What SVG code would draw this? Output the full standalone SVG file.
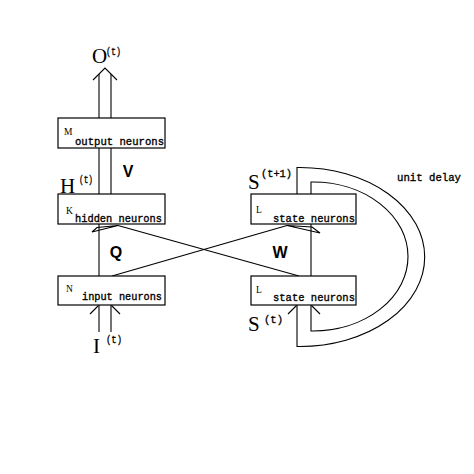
<svg xmlns="http://www.w3.org/2000/svg" width="474" height="474" viewBox="0 0 474 474">
<style>
.box{fill:#fff;stroke:#000;stroke-width:1.2}
.ln{fill:none;stroke:#000;stroke-width:1.1}
.mono{font-family:"Liberation Mono","DejaVu Sans Mono",monospace;font-size:11px;fill:#000;stroke:#000;stroke-width:0.35}
.sm{font-family:"Liberation Serif","DejaVu Serif",serif;font-size:9.5px;fill:#000}
.big{font-family:"Liberation Serif","DejaVu Serif",serif;font-size:21px;fill:#000}
.sup{font-family:"Liberation Mono","DejaVu Sans Mono",monospace;font-size:10px;fill:#000;stroke:#000;stroke-width:0.3}
.bold{font-family:"Liberation Sans","DejaVu Sans",sans-serif;font-size:16px;font-weight:bold;fill:#000}
</style>
<rect width="474" height="474" fill="#fff"/>
<g id="connectors">
<polyline class="ln" points="93,80 105,68 117,80"/>
<line class="ln" x1="99" y1="74" x2="99" y2="118"/>
<line class="ln" x1="111" y1="74" x2="111" y2="118"/>
<line class="ln" x1="99" y1="148" x2="99" y2="194"/>
<line class="ln" x1="111" y1="148" x2="111" y2="194"/>
<line class="ln" x1="99" y1="224" x2="99" y2="276"/>
<line class="ln" x1="311" y1="224" x2="311" y2="276"/>
<line class="ln" x1="118" y1="225.5" x2="299" y2="276"/>
<polygon class="ln" points="118,225.5 92,232 97,227.5"/>
<line class="ln" x1="112" y1="276" x2="287" y2="225.5"/>
<polygon class="ln" points="287,225.5 320,233 312,227"/>
<line class="ln" x1="99" y1="305" x2="99" y2="332"/>
<line class="ln" x1="111" y1="305" x2="111" y2="332"/>
<line class="ln" x1="90" y1="314" x2="98.5" y2="305.5"/>
<line class="ln" x1="120" y1="314" x2="111.5" y2="305.5"/>
<path class="ln" d="M297,194 V167.5 L300,167.5 A124,89 0 0 1 300,346.5 L297,346.5 V305"/>
<path class="ln" d="M311,194 V182 L313,182 A95,74.5 0 0 1 313,331 L311,331 V305"/>
<line class="ln" x1="288" y1="314" x2="296.5" y2="305.5"/>
<line class="ln" x1="320" y1="314" x2="311.5" y2="305.5"/>
</g>
<g id="output">
<rect class="box" x="58" y="118" width="107" height="30"/>
<text class="sm" x="64" y="135">M</text>
<text class="mono" x="75" y="145" textLength="89" lengthAdjust="spacingAndGlyphs">output neurons</text>
</g>
<g id="hidden">
<rect class="box" x="58" y="194" width="107" height="30"/>
<text class="sm" x="66" y="214">K</text>
<text class="mono" x="75" y="222" textLength="87" lengthAdjust="spacingAndGlyphs">hidden neurons</text>
</g>
<g id="input">
<rect class="box" x="58" y="276" width="107" height="29"/>
<text class="sm" x="66" y="292">N</text>
<text class="mono" x="82" y="300" textLength="80" lengthAdjust="spacingAndGlyphs">input neurons</text>
</g>
<g id="state-next">
<rect class="box" x="251" y="194" width="105" height="30"/>
<text class="sm" x="256" y="213">L</text>
<text class="mono" x="273" y="222" textLength="82" lengthAdjust="spacingAndGlyphs">state neurons</text>
</g>
<g id="state-current">
<rect class="box" x="251" y="276" width="105" height="29"/>
<text class="sm" x="256" y="293">L</text>
<text class="mono" x="273" y="301" textLength="82" lengthAdjust="spacingAndGlyphs">state neurons</text>
</g>
<g id="labels">
<text class="big" x="92" y="63" font-size="18">O</text>
<text class="sup" x="106" y="55" textLength="15" lengthAdjust="spacingAndGlyphs">(t)</text>
<text class="big" x="60" y="193">H</text>
<text class="sup" x="79" y="183" textLength="14" lengthAdjust="spacingAndGlyphs">(t)</text>
<text class="big" x="248" y="189">S</text>
<text class="sup" x="261" y="177" textLength="31" lengthAdjust="spacingAndGlyphs">(t+1)</text>
<text class="big" x="248" y="331">S</text>
<text class="sup" x="264" y="323" textLength="19" lengthAdjust="spacingAndGlyphs">(t)</text>
<text class="big" x="93" y="353">I</text>
<text class="sup" x="106" y="343" textLength="16" lengthAdjust="spacingAndGlyphs">(t)</text>
<text class="bold" x="128" y="177" text-anchor="middle">V</text>
<text class="bold" x="116" y="258" text-anchor="middle">Q</text>
<text class="bold" x="280" y="258" text-anchor="middle">W</text>
<text class="mono" x="397" y="181" textLength="64" lengthAdjust="spacingAndGlyphs">unit delay</text>
</g>
</svg>
